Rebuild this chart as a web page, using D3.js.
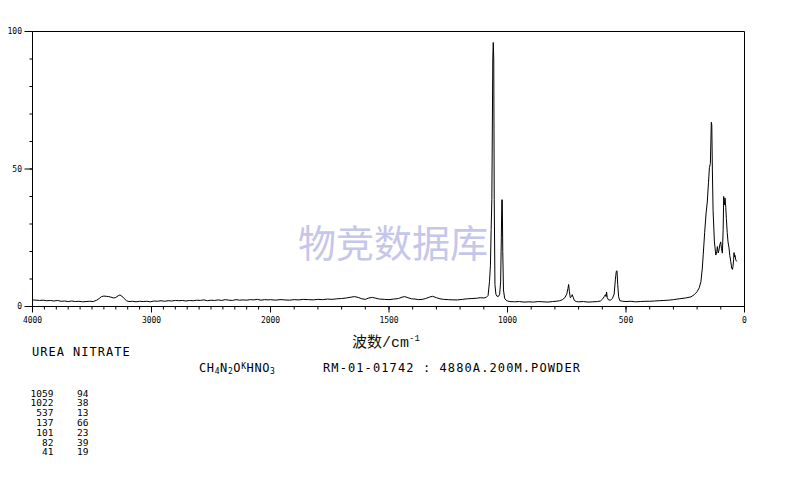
<!DOCTYPE html>
<html>
<head>
<meta charset="utf-8">
<script src="https://cdn.jsdelivr.net/npm/d3@7"></script>
<style>
  html, body { margin: 0; padding: 0; background: #fff; }
  svg { display: block; }
</style>
</head>
<body>
<svg id="chart" width="794" height="482"></svg>
<script>
// ---- data ----
const wavenumbers = [
  4000,3970,3940,3910,3880,3850,3820,3790,3760,3730,3700,3670,3640,3610,3580,3550,3520,3490,
  3460,3440,3420,3400,3380,3360,3340,3320,3300,3280,3265,3250,3230,3210,3190,3160,3130,3100,
  3070,3040,3010,2980,2950,2920,2890,2860,2830,2800,2770,2740,2710,2680,2650,2620,2590,2560,
  2530,2500,2470,2440,2410,2380,2350,2320,2290,2260,2230,2200,2170,2140,2110,2080,2050,2020,2000,
  1980,1960,1940,1920,1900,1880,1860,1840,1820,1800,1780,1760,1740,1720,1700,1680,1660,1645,
  1630,1615,1600,1585,1570,1555,1540,1520,1500,1480,1460,1445,1434,1420,1405,1390,1375,1360,
  1345,1330,1316,1300,1285,1270,1250,1230,1210,1190,1170,1150,1130,1115,1100,1090,1082,1076,
  1072,1069,1066,1062,1060,1058,1056,1053,1049,1044,1038,1033,1029,1026,1024,1022,1020,1017,
  1012,1006,1000,990,970,950,930,910,890,870,850,830,810,795,780,768,758,750,745,742,739,735,
  730,727,723,718,710,700,680,660,640,620,608,598,592,587,584,582,579,574,565,557,550,545,541,
  538,535,531,526,515,500,480,460,440,420,400,380,360,340,320,300,276,248,226,212,200,191,184,
  178,174,168,162,157,152,148,144,140,138,135.5,132.6,127,121,117,114.5,111,107.4,104,100.4,97,
  93.3,90,87.7,85,82,79,76.5,73,69.5,65.3,62,58.2,54,51,48.4,46,44.2,42,40,37,33
];
const intensities = [
  2.4,2.3,2.2,2.3,2.1,2.2,2.0,2.2,1.9,2.0,1.8,2.0,1.8,1.9,1.7,1.8,1.9,1.8,
  2.3,2.9,3.6,3.8,3.7,3.6,3.4,3.1,3.3,3.9,4.2,3.8,2.9,2.1,1.8,1.9,1.7,1.9,
  1.8,1.9,1.7,2.0,1.9,2.1,1.9,2.1,2.0,2.2,2.1,2.2,2.0,2.2,2.1,2.3,2.2,2.4,
  2.1,2.3,2.2,2.4,2.2,2.5,2.3,2.2,2.5,2.3,2.4,2.3,2.5,2.4,2.6,2.3,2.5,2.4,2.5,
  2.3,2.5,2.4,2.3,2.5,2.4,2.6,2.5,2.4,2.6,2.5,2.7,2.6,2.8,2.9,3.1,3.4,3.6,
  3.3,2.8,2.6,3.1,3.3,3.0,2.7,2.6,2.5,2.7,2.9,3.4,3.6,3.2,2.8,2.7,2.5,2.6,
  2.9,3.4,3.7,3.2,2.8,2.6,2.5,2.4,2.4,2.6,2.8,2.9,3.0,3.2,3.1,3.3,4.0,9.0,
  15,28,39,90,96,90,39,8,4.5,3.7,3.7,4.5,9,25,38.8,38.8,20,6,
  3,2.3,2.0,1.8,1.7,1.8,1.6,1.7,1.6,1.8,1.7,1.6,1.8,1.9,2.1,2.5,3.2,4.5,6.5,8,5.5,3.2,
  3.6,4.3,3.4,2.2,1.8,1.7,1.8,1.6,1.7,1.8,2.0,2.8,3.6,4.3,3.6,5.3,3.2,2.4,2.3,3.0,4.5,9.7,12.8,
  13,8,3.5,2.1,1.9,1.8,1.9,1.7,1.8,1.9,1.9,2.0,2.1,2.2,2.3,2.5,2.8,3.1,3.5,4.3,5.4,6.8,9,
  14,19,27,34,38,45,50.5,52,67,66,49.6,35,23.5,18.7,20,21.8,19.5,20.6,22.5,23.5,21,
  19.4,28,40,37,39.4,36,32,27,23.5,21.3,18.5,16.5,14,13.5,14.6,17,19.6,18,18.6,17,16.4
];
const xMajorTicks = [4000, 3000, 2000, 1500, 1000, 500, 0];
const xMinorTicksHigh = d3.range(4000, 2000, -100);
const xMinorTicksLow = d3.range(2000, -1, -100);
const yMajorTicks = [0, 50, 100];
const yMinorTicks = d3.range(0, 101, 10);
const compoundName = "UREA NITRATE";
const recordInfo = "RM-01-01742 : 4880A.200M.POWDER";
const peakWavenumbers = [1059, 1022, 537, 137, 101, 82, 41];
const peakIntensities = [94, 38, 13, 66, 23, 39, 19];
const watermark = "物竞数据库";

// ---- drawing ----
const svg = d3.select("#chart");
svg.append("rect").attr("width", 794).attr("height", 482).attr("fill", "#fff");

const x = d3.scaleLinear().domain([4000, 2000, 0]).range([32.5, 270.5, 744.5]);
const y = d3.scaleLinear().domain([0, 100]).range([306.5, 31.5]);

const mono = "'DejaVu Sans Mono', 'Liberation Mono', monospace";

// watermark
svg.append("text")
  .attr("x", 393).attr("y", 240)
  .attr("text-anchor", "middle")
  .attr("dominant-baseline", "central")
  .attr("font-family", "'Noto Sans CJK SC', sans-serif")
  .attr("font-size", 38)
  .attr("fill", "#c6c6ea")
  .text(watermark);

// frame top & right
svg.append("line").attr("x1", x(4000)).attr("x2", x(0)).attr("y1", y(100)).attr("y2", y(100))
  .attr("stroke", "#000").attr("stroke-width", 1);
svg.append("line").attr("x1", x(0)).attr("x2", x(0)).attr("y1", y(100)).attr("y2", y(0))
  .attr("stroke", "#000").attr("stroke-width", 1);

// bottom axis
const gx = svg.append("g").attr("transform", `translate(0,${y(0)})`);
gx.call(d3.axisBottom(x).tickValues(xMajorTicks).tickSize(6).tickSizeOuter(0).tickPadding(5).offset(0)
  .tickFormat(d => String(d)));
const gxm = svg.append("g").attr("transform", `translate(0,${y(0)})`);
gxm.call(d3.axisBottom(x).tickValues(xMinorTicksHigh.concat(xMinorTicksLow)).tickSize(3).tickFormat("").offset(0));
gxm.select(".domain").remove();

// left axis
const gy = svg.append("g").attr("transform", `translate(${x(4000)},0)`);
gy.call(d3.axisLeft(y).tickValues(yMajorTicks).tickSize(8).tickSizeOuter(0).tickPadding(2.5).offset(0)
  .tickFormat(d => String(d)));
const gym = svg.append("g").attr("transform", `translate(${x(4000)},0)`);
gym.call(d3.axisLeft(y).tickValues(yMinorTicks).tickSize(3).tickFormat("").offset(0));
gym.select(".domain").remove();

svg.selectAll(".tick text").attr("font-family", mono).attr("font-size", 8).attr("fill", "#000");
svg.selectAll(".domain, .tick line").attr("stroke", "#000").attr("stroke-width", 1);

// spectrum
const pts = wavenumbers.map((w, i) => ({ w, v: intensities[i] }));
const line = d3.line().x(d => x(d.w)).y(d => y(d.v));
svg.append("path").datum(pts)
  .attr("d", line)
  .attr("fill", "none")
  .attr("stroke", "#000")
  .attr("stroke-width", 1)
  .attr("stroke-linejoin", "miter");

// axis title
const title = svg.append("text").attr("x", 352).attr("y", 347).attr("fill", "#111");
title.append("tspan").attr("font-family", "'Noto Sans CJK SC', sans-serif").attr("font-size", 15).text("波数");
title.append("tspan").attr("font-family", "'Liberation Mono', monospace").attr("font-size", 15).text("/cm");
title.append("tspan").attr("font-family", "'Liberation Mono', monospace").attr("font-size", 9).attr("dy", -6).text("-1");

// info block
svg.append("text").attr("x", 32).attr("y", 356)
  .attr("font-family", mono).attr("font-size", 12).attr("letter-spacing", 1).attr("fill", "#000")
  .text(compoundName);

const formula = svg.append("text").attr("x", 199).attr("y", 372)
  .attr("font-family", mono).attr("font-size", 12).attr("letter-spacing", 0.6).attr("fill", "#000");
formula.append("tspan").text("CH");
formula.append("tspan").attr("font-size", 8).attr("dy", 2).text("4");
formula.append("tspan").attr("dy", -2).text("N");
formula.append("tspan").attr("font-size", 8).attr("dy", 2).text("2");
formula.append("tspan").attr("dy", -2).text("O");
formula.append("tspan").attr("font-size", 8).attr("dy", -3).text("K");
formula.append("tspan").attr("dy", 3).text("HNO");
formula.append("tspan").attr("font-size", 8).attr("dy", 2).text("3");

svg.append("text").attr("x", 323).attr("y", 372)
  .attr("font-family", mono).attr("font-size", 12).attr("letter-spacing", 1.1).attr("fill", "#000")
  .text(recordInfo);

const rows = svg.append("g").attr("font-family", mono).attr("font-size", 9.5).attr("fill", "#000");
peakWavenumbers.forEach((w, i) => {
  const yy = 396.5 + i * 9.8;
  rows.append("text").attr("x", 53.5).attr("y", yy).attr("text-anchor", "end").text(String(w));
  rows.append("text").attr("x", 88.5).attr("y", yy).attr("text-anchor", "end").text(String(peakIntensities[i]));
});
</script>
</body>
</html>
